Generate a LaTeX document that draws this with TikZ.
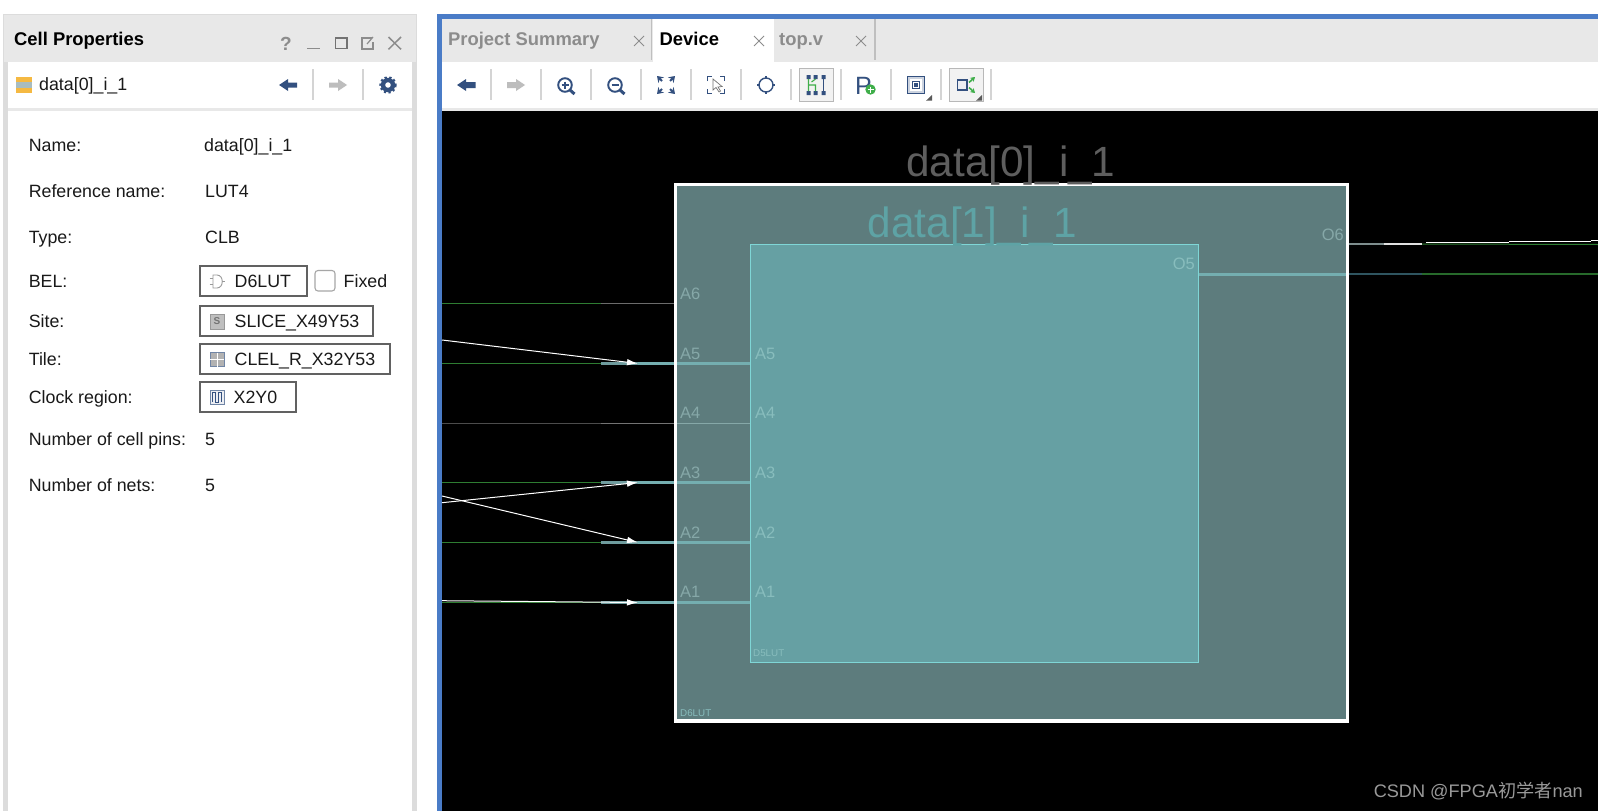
\documentclass[tikz,border=0pt]{standalone}
\usepackage{fontspec}
\usetikzlibrary{arrows.meta}
\setmainfont{Liberation Sans}
\newfontfamily\cjk{Noto Sans CJK SC}
\definecolor{panelgray}{HTML}{E8E8E8}
\definecolor{edgegray}{HTML}{DCDCDC}
\definecolor{vivblue}{HTML}{4A7CC7}
\definecolor{navyicon}{HTML}{33507F}
\definecolor{iconoff}{HTML}{BDBDBD}
\definecolor{cellorange}{HTML}{F5B942}
\definecolor{cellgrey}{HTML}{A8BCC0}
\definecolor{outerfill}{HTML}{5D7C7D}
\definecolor{innerfill}{HTML}{66A0A3}
\definecolor{inneredge}{HTML}{7FD6D6}
\definecolor{pintext}{HTML}{86A8A8}
\definecolor{pintexttwo}{HTML}{88BDBD}
\definecolor{subtitle}{HTML}{5EA3A5}
\definecolor{netgreen}{HTML}{2E7D32}
\definecolor{netteal}{HTML}{74AEB0}
\definecolor{netdim}{HTML}{6F9C9E}
\definecolor{netdark}{HTML}{2F5560}
\definecolor{netgrey}{HTML}{7E8E8E}
\definecolor{greenicon}{HTML}{3FAE4A}
\tikzset{
    proplabel/.style={anchor=base west,inner sep=0pt,font=\fontsize{17.8}{20}\selectfont,text=black!90},
    tabtext/.style={anchor=base west,inner sep=0pt,font=\fontsize{18.4}{20}\selectfont\bfseries},
    valuebox/.style={draw=black!62,line width=2pt},
    pinlabel/.style={anchor=base west,inner sep=0pt,font=\fontsize{16.5}{18}\selectfont,text=pintext},
    lutlabel/.style={pinlabel,text=pintexttwo},
    smalllabel/.style={anchor=base west,inner sep=0pt,font=\fontsize{9.8}{11}\selectfont,text=pintexttwo},
    celltitle/.style={anchor=base west,inner sep=0pt,font=\fontsize{42.3}{44}\selectfont},
    toolsep/.style={draw=black!17,line width=1.2pt},
    closecross/.style={draw=black!45,line width=1pt},
    togglebox/.style={draw=black!28,fill=black!5,line width=0.9pt},
    fitarrow/.style={navyicon,line width=2pt,-{Stealth[length=6pt,width=8pt]}},
    thinnet/.style={line width=1pt},
    widenet/.style={draw=netteal,line width=3pt},
    whitenet/.style={draw=white,line width=1pt,-{Latex[length=11pt,width=6.5pt]}}
}
\begin{document}
\begin{tikzpicture}[x=1pt,y=-1pt]
    \useasboundingbox (0,0) rectangle (1598,811);
    \fill[white] (0,0) rectangle (1598,811);

    % left panel
    \fill[edgegray] (3,14) rectangle (416.5,811);
    \fill[panelgray] (3.5,15) rectangle (416,62);
    \fill[white] (8,62) rectangle (412,108);
    \fill[panelgray] (8,108) rectangle (412,111);
    \fill[white] (8,111) rectangle (412,811);
    \node[tabtext] (paneltitle) at (14,45) {Cell Properties};

    % window buttons
    \node[anchor=base,inner sep=0pt,text=black!45,font=\fontsize{19}{20}\selectfont\bfseries] (helpmark) at (286,50) {?};
    \draw[black!45,line width=1.4pt] (307,48.3) -- (319.5,48.3);
    \draw[black!55,line width=1.5pt] (335.5,38) rectangle (347,48.5);
    \draw[black!45,line width=1.2pt] (372,38) -- (362,38) -- (362,49) -- (373,49) -- (373,42);
    \draw[black!45,line width=1.2pt] (367,44) -- (373,37);
    \draw[closecross,line width=1.5pt] (388.5,37) -- (401,49.3);
    \draw[closecross,line width=1.5pt] (401,37) -- (388.5,49.3);

    % cell row
    \fill[cellorange] (16,77.3) rectangle (32,92.7);
    \fill[cellgrey] (16,82) rectangle (32,87.8);
    \node[proplabel] (cellname) at (39,90.7) {data[0]\_i\_1};
    \fill[navyicon] (279,85) -- (288,79) -- (288,82.5) -- (297,82.5) -- (297,87.5) -- (288,87.5) -- (288,91) -- cycle;
    \draw[toolsep] (313,69) -- (313,100);
    \fill[iconoff] (347,85) -- (338,79) -- (338,82.5) -- (329,82.5) -- (329,87.5) -- (338,87.5) -- (338,91) -- cycle;
    \draw[toolsep] (363,69) -- (363,100);
    \draw[navyicon,line width=2.2pt,dash pattern=on 2.2pt off 2.4pt] (388,85) circle (7.6);
    \fill[navyicon,even odd rule] (388,85) circle (7.2) (388,85) circle (2.9);

    % property rows
    \node[proplabel] (namekey) at (28.6,151) {Name:};
    \node[proplabel] (nameval) at (204,151) {data[0]\_i\_1};
    \node[proplabel] (refkey) at (28.6,197.2) {Reference name:};
    \node[proplabel] (refval) at (205,197.2) {LUT4};
    \node[proplabel] (typekey) at (28.6,243.2) {Type:};
    \node[proplabel] (typeval) at (205,243.2) {CLB};
    \node[proplabel] (belkey) at (28.6,287) {BEL:};
    \node[proplabel] (sitekey) at (28.6,327.3) {Site:};
    \node[proplabel] (tilekey) at (28.6,365) {Tile:};
    \node[proplabel] (clockkey) at (28.6,403) {Clock region:};
    \node[proplabel] (pinskey) at (28.6,445) {Number of cell pins:};
    \node[proplabel] (pinsval) at (205,445) {5};
    \node[proplabel] (netskey) at (28.6,491.2) {Number of nets:};
    \node[proplabel] (netsval) at (205,491.2) {5};

    % value boxes
    \draw[valuebox] (200,265.7) rectangle (306.5,296);
    \node[proplabel] (belval) at (234.5,287) {D6LUT};
    \draw[black!40,line width=0.9pt] (213,275) -- (217,275) .. controls (224,275) and (224,288) .. (217,288) -- (213,288) -- cycle;
    \draw[black!40,line width=0.9pt] (209.5,278.5) -- (213,278.5) (209.5,284.5) -- (213,284.5) (222,281.5) -- (225,281.5);
    \draw[black!35,fill=white,line width=1.1pt,rounded corners=3pt] (315,270.5) rectangle (335,291);
    \node[proplabel] (fixedlabel) at (343.5,287) {Fixed};

    \draw[valuebox] (200,305.7) rectangle (372.5,336);
    \node[proplabel] (siteval) at (234.5,327.3) {SLICE\_X49Y53};
    \draw[black!40,fill=black!25,line width=0.6pt] (210,314) rectangle (224,329);
    \node[inner sep=0pt,font=\fontsize{10}{10}\selectfont\bfseries,text=black!55] (siteicon) at (217,321.5) {S};

    \draw[valuebox] (200,343.7) rectangle (389.5,374.3);
    \node[proplabel] (tileval) at (234.5,365) {CLEL\_R\_X32Y53};
    \draw[navyicon!70,fill=black!30,line width=0.9pt] (210,352.5) rectangle (224,366.5);
    \draw[white,line width=1pt] (217,352.5) -- (217,366.5) (210,359.5) -- (224,359.5);

    \draw[valuebox] (200,381.7) rectangle (295.5,412.3);
    \node[proplabel] (clockval) at (233.5,403) {X2Y0};
    \draw[navyicon!70,fill=navyicon!10,line width=0.6pt] (210,390) rectangle (224,404);
    \draw[navyicon,line width=0.7pt] (212,402) -- (212,392.5) -- (215,392.5) -- (215,402) -- (218,402) -- (218,392.5) -- (221,392.5) -- (221,402);

    % device window
    \fill[vivblue] (437,14) rectangle (1598,811);
    \fill[panelgray] (442,19) rectangle (1598,62);
    \fill[white] (442,62) rectangle (1598,108);
    \fill[panelgray] (442,108) rectangle (1598,111);
    \fill[black] (442,111) rectangle (1598,811);

    % tabs
    \fill[white] (652.5,19) rectangle (773.5,62);
    \draw[black!25,line width=1.2pt] (651.5,19) -- (651.5,60);
    \draw[black!25,line width=1.2pt] (875,19) -- (875,60);
    \node[tabtext,text=black!45] (tabsummary) at (448,45) {Project Summary};
    \node[tabtext,text=black] (tabdevice) at (659.5,45) {Device};
    \node[tabtext,text=black!45] (tabtop) at (779,45) {top.v};
    \draw[black!45,line width=1pt] (634,36) -- (644,46) (644,36) -- (634,46);
    \draw[black!45,line width=1pt] (754,36) -- (764,46) (764,36) -- (754,46);
    \draw[black!45,line width=1pt] (856,36) -- (866,46) (866,36) -- (856,46);

    % toolbar
    \draw[toolsep] (491,69) -- (491,100) (541,69) -- (541,100) (591,69) -- (591,100) (641,69) -- (641,100)
        (691,69) -- (691,100) (741,69) -- (741,100) (791,69) -- (791,100) (841,69) -- (841,100)
        (891,69) -- (891,100) (941,69) -- (941,100) (991,69) -- (991,100);
    \fill[navyicon] (457,85) -- (466,79) -- (466,82) -- (475.5,82) -- (475.5,88) -- (466,88) -- (466,91) -- cycle;
    \fill[iconoff] (525,85) -- (516,79) -- (516,82) -- (507,82) -- (507,88) -- (516,88) -- (516,91) -- cycle;
    \draw[navyicon,line width=1.9pt] (565,85) circle (6.8);
    \draw[navyicon,line width=1.3pt] (561.5,85) -- (568.5,85) (565,81.5) -- (565,88.5);
    \draw[navyicon,line width=3pt] (570,90) -- (574.5,94);
    \draw[navyicon,line width=1.9pt] (615,85) circle (6.8);
    \draw[navyicon,line width=1.3pt] (611.5,85) -- (618.5,85);
    \draw[navyicon,line width=3pt] (620,90) -- (624.5,94);
    \draw[fitarrow] (662,81) -- (657,76);
    \draw[fitarrow] (670,81) -- (675,76);
    \draw[fitarrow] (662,89) -- (657,94);
    \draw[fitarrow] (670,89) -- (675,94);
    \draw[navyicon,line width=1.6pt] (707.5,81) -- (707.5,76.5) -- (712,76.5) (720,76.5) -- (724.5,76.5) -- (724.5,81)
        (707.5,89) -- (707.5,93.5) -- (712,93.5) (720,93.5) -- (724.5,93.5) -- (724.5,89);
    \draw[black!55,fill=white,line width=0.7pt] (713,79) -- (713,90) -- (716,87.5) -- (719,92) -- (720.5,91) -- (718,87) -- (722,86.5) -- cycle;
    \draw[navyicon,line width=1.4pt] (766,85) circle (7);
    \draw[navyicon,line width=1.6pt] (757,85) -- (760,85) (772,85) -- (775,85) (766,76) -- (766,79) (766,91) -- (766,94);

    \draw[togglebox] (799.5,68.5) rectangle (833,101);
    \fill[navyicon] (806.5,75) rectangle (810.5,79) (813.5,75) rectangle (817.5,79) (821.5,75) rectangle (825.5,79)
        (806.5,91) rectangle (810.5,95) (813.5,91) rectangle (817.5,95) (821.5,91) rectangle (825.5,95);
    \draw[greenicon,line width=1.1pt] (808.5,79) -- (808.5,85) -- (815.5,85) -- (815.5,91) (815.5,79) -- (811.5,82) (808.5,85) -- (808.5,91);
    \draw[navyicon,line width=1.3pt] (823.5,79) -- (823.5,91);

    \node[anchor=base west,inner sep=0pt,text=navyicon,font=\fontsize{25}{25}\selectfont] (pinplus) at (855,94) {P};
    \fill[greenicon] (870.5,89.5) circle (5.2);
    \draw[white,line width=1.2pt] (867.5,89.5) -- (873.5,89.5) (870.5,86.5) -- (870.5,92.5);

    \draw[navyicon,fill=navyicon!25,line width=1.2pt] (907.5,76.5) rectangle (924.5,93.5);
    \fill[white] (910,79) rectangle (922,91);
    \draw[navyicon,line width=1.2pt] (912.5,81.5) rectangle (919.5,88.5);
    \fill[navyicon] (914,83) rectangle (918,87);
    \fill[black!65] (926,100.7) -- (932,100.7) -- (932,95) -- cycle;

    \draw[togglebox] (949.5,68.5) rectangle (983,101);
    \draw[navyicon,fill=navyicon!10,line width=1.6pt] (957.5,80) rectangle (967,90);
    \draw[greenicon,line width=1.6pt,-{Stealth[length=4.5pt,width=5.5pt]}] (969,82.5) -- (975,77);
    \draw[greenicon,line width=1.6pt,-{Stealth[length=4.5pt,width=5.5pt]}] (969,87.5) -- (975,93);
    \fill[black!65] (976,100.7) -- (982,100.7) -- (982,95) -- cycle;

    % the two luts
    \fill[outerfill] (675.5,184.3) rectangle (1347.5,721);
    \fill[innerfill] (750,244) rectangle (1198.7,662);
    \draw[inneredge,line width=1pt] (750,244) rectangle (1198.7,662);

    % pin ends
    \foreach \pin/\ypos in {a1/602.5,a2/542.5,a3/482.5,a4/423.5,a5/363.5,a6/303.5} {
        \coordinate (\pin far) at (442,\ypos);
        \coordinate (\pin mid) at (601,\ypos);
        \coordinate (\pin edge) at (675.5,\ypos);
        \coordinate (\pin lut) at (750,\ypos);
        \coordinate (\pin tip) at (638,\ypos);
    }

    % nets on the inputs
    \draw[netgreen,thinnet] (a6far) -- (a6mid);
    \draw[black!58,thinnet] (a6mid) -- (a6edge);
    \draw[netgreen,thinnet] (a5far) -- (a5mid);
    \draw[netdim,line width=3pt] (a5mid) -- (a5tip);
    \draw[widenet] (a5tip) -- (a5lut);
    \draw[black!70,thinnet] (a4far) -- (a4mid);
    \draw[black!55,thinnet] (a4mid) -- (a4edge);
    \draw[pintext,thinnet] (a4edge) -- (a4lut);
    \draw[netgreen,thinnet] (a3far) -- (a3mid);
    \draw[netdim,line width=3pt] (a3mid) -- (a3tip);
    \draw[widenet] (a3tip) -- (a3lut);
    \draw[netgreen,thinnet] (a2far) -- (a2mid);
    \draw[netdim,line width=3pt] (a2mid) -- (a2tip);
    \draw[widenet] (a2tip) -- (a2lut);
    \draw[netgreen,thinnet] (a1far) -- (a1mid);
    \draw[netdim,line width=3pt] (a1mid) -- (a1tip);
    \draw[widenet] (a1tip) -- (a1lut);

    % routed arrows
    \coordinate (a5start) at (442,340);
    \coordinate (a3start) at (442,502.7);
    \coordinate (a2start) at (442,496);
    \coordinate (a1start) at (442,600.7);
    \draw[whitenet] (a5start) -- (a5tip);
    \draw[whitenet] (a3start) -- (a3tip);
    \draw[whitenet] (a2start) -- (a2tip);
    \draw[whitenet] (a1start) -- (a1tip);

    % nets on the outputs
    \coordinate (o6right) at (1349,244);
    \coordinate (o6grey) at (1384,244);
    \coordinate (o6green) at (1422,244);
    \coordinate (o6end) at (1598,244.5);
    \draw[netgrey,line width=2.4pt] (o6right) -- (o6grey);
    \draw[black!12,line width=2.4pt] (o6grey) -- (o6green);
    \draw[netgreen,thinnet] (o6green) -- (o6end);
    \draw[white,thinnet] (1426,242.5) -- (1509,242.5) (1509,241.8) -- (1591,241.8) (1591,240.5) -- (1598,240.5);
    \coordinate (o5lut) at (1198.7,274);
    \coordinate (o5right) at (1349,274);
    \coordinate (o5green) at (1422,274);
    \coordinate (o5end) at (1598,274);
    \draw[widenet] (o5lut) -- (o5right);
    \draw[netdark,line width=2pt] (o5right) -- (o5green);
    \draw[netgreen!85!black,line width=2pt] (o5green) -- (o5end);

    % white frame goes over the net ends
    \draw[white,line width=3.2pt] (675.5,184.3) rectangle (1347.5,721);

    % titles and pin names
    \node[celltitle,text=black!63] (celltop) at (906,176.7) {data[0]\_i\_1};
    \node[celltitle,text=subtitle] (cellsub) at (867.5,237) {data[1]\_i\_1};
    \node[pinlabel] (outa6) at (680,299.5) {A6};
    \node[pinlabel] (outa5) at (680,359.5) {A5};
    \node[pinlabel] (outa4) at (680,418.5) {A4};
    \node[pinlabel] (outa3) at (680,478.5) {A3};
    \node[pinlabel] (outa2) at (680,538.5) {A2};
    \node[pinlabel] (outa1) at (680,597.5) {A1};
    \node[lutlabel] (luta5) at (755,359.5) {A5};
    \node[lutlabel] (luta4) at (755,418.5) {A4};
    \node[lutlabel] (luta3) at (755,478.5) {A3};
    \node[lutlabel] (luta2) at (755,538.5) {A2};
    \node[lutlabel] (luta1) at (755,597.5) {A1};
    \node[pinlabel,anchor=base east] (pino6) at (1344,240) {O6};
    \node[lutlabel,anchor=base east] (pino5) at (1195,269) {O5};
    \node[smalllabel] (outname) at (680,716) {D6LUT};
    \node[smalllabel] (lutname) at (753,656) {D5LUT};

    \node[anchor=base east,inner sep=0pt,text=black!40,font=\fontsize{18.15}{20}\selectfont] (watermark) at (1583,797) {CSDN @FPGA{\cjk 初学者}nan};
\end{tikzpicture}
\end{document}
